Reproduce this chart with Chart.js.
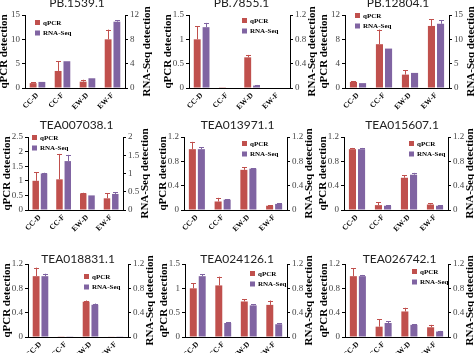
<!DOCTYPE html>
<html>
<head>
<meta charset="utf-8">
<script src="https://cdn.jsdelivr.net/npm/chart.js@4.4.1/dist/chart.umd.min.js"></script>
<style>
html, body { margin: 0; padding: 0; background: #fff; }
body { width: 474px; height: 353px; position: relative; overflow: hidden; }
canvas { position: absolute; }
</style>
</head>
<body>
<script>
// Data
const categories = ['CC-D', 'CC-F', 'EW-D', 'EW-F'];
const geneNames = ['PB.1539.1', 'PB.7855.1', 'PB.12804.1', 'TEA007038.1', 'TEA013971.1',
    'TEA015607.1', 'TEA018831.1', 'TEA024126.1', 'TEA026742.1'];

const qpcrValues = [
    [1.0, 3.5, 1.3, 10.0],
    [1.0, 0.005, 0.63, 0],
    [1.0, 7.2, 2.2, 10.2],
    [1.0, 1.05, 0.57, 0.4],
    [1.0, 0.14, 0.66, 0.07],
    [1.0, 0.08, 0.53, 0.09],
    [1.0, 0.005, 0.58, 0.01],
    [1.0, 1.06, 0.73, 0.66],
    [1.0, 0.17, 0.42, 0.16]
];
const qpcrErrors = [
    [0.15, 2.0, 0.4, 2.0],
    [0.27, 0, 0.05, 0],
    [0.1, 2.4, 0.7, 1.1],
    [0.3, 0.87, 0.02, 0.17],
    [0.12, 0.06, 0.04, 0.01],
    [0.02, 0.05, 0.04, 0.02],
    [0.14, 0, 0.02, 0],
    [0.1, 0.18, 0.05, 0.09],
    [0.13, 0.12, 0.06, 0.04]
];
const rnaValues = [
    [1.0, 4.4, 1.6, 10.9],
    [1.0, 0, 0.04, 0],
    [1.0, 8.1, 3.1, 13.2],
    [1.0, 1.34, 0.4, 0.44],
    [1.0, 0.17, 0.68, 0.1],
    [1.0, 0.07, 0.58, 0.07],
    [1.0, 0.005, 0.53, 0.005],
    [1.0, 0.23, 0.52, 0.21],
    [1.0, 0.23, 0.2, 0.09]
];
const rnaErrors = [
    [0.05, 0.05, 0.05, 0.2],
    [0.07, 0, 0.01, 0],
    [0.05, 0.1, 0.1, 0.7],
    [0.02, 0.17, 0.01, 0.04],
    [0.03, 0.01, 0.01, 0.01],
    [0.02, 0.01, 0.03, 0.01],
    [0.04, 0, 0.02, 0],
    [0.03, 0.01, 0.02, 0.02],
    [0.02, 0.03, 0.01, 0.01]
];

// axis ranges / tick steps
const qpcrMax = [15, 1.5, 12, 2.5, 1.2, 1.2, 1.2, 1.5, 1.2];
const qpcrStep = [5, 0.5, 2, 0.5, 0.2, 0.2, 0.2, 0.5, 0.2];
const rnaMax = [12, 1.2, 15, 2, 1.2, 1.2, 1.2, 1.2, 1.2];
const rnaStep = [2, 0.2, 5, 0.5, 0.2, 0.2, 0.2, 0.2, 0.2];

// Layout: plot box per panel, title and legend offsets
const panelBoxes = [
    { x: 25, y: 15, w: 100, h: 73, tdx: 2, tdy: -12, lx: 10, ly: 5 },
    { x: 189, y: 15, w: 101, h: 73, tdx: 2, tdy: -12, lx: 53, ly: 3 },
    { x: 345, y: 15, w: 104, h: 73, tdx: 1, tdy: -12, lx: 10, ly: -2 },
    { x: 28, y: 137, w: 95, h: 73, tdx: 1, tdy: -12, lx: 4, ly: -2 },
    { x: 184, y: 137, w: 103, h: 73, tdx: 2, tdy: -12, lx: 58, ly: 4 },
    { x: 344, y: 137, w: 104, h: 73, tdx: 6, tdy: -12, lx: 65, ly: 4 },
    { x: 28, y: 264, w: 100, h: 73, tdx: 0, tdy: -5, lx: 56, ly: 10 },
    { x: 185, y: 264, w: 102, h: 73, tdx: 1, tdy: -5, lx: 65, ly: 7 },
    { x: 345, y: 264, w: 103, h: 73, tdx: 3, tdy: -5, lx: 67, ly: 5 }
];

const RED = '#c0504d';
const PURPLE = '#8064a2';
const SERIF = '"Liberation Serif", "DejaVu Serif", serif';
const PAD_LEFT = 30, PAD_RIGHT = 32, PAD_TOP = 22, PAD_BOTTOM = 24;

const tickLabel = v => String(+Number(v).toFixed(2));

// Error bars, titles, axis titles and legend
const decorPlugin = {
    id: 'decor',
    afterDatasetsDraw(chart) {
        const ctx = chart.ctx;
        chart.data.datasets.forEach((ds, di) => {
            const meta = chart.getDatasetMeta(di);
            const scale = chart.scales[ds.yAxisID];
            meta.data.forEach((bar, i) => {
                const yVal = scale.getPixelForValue(ds.data[i]);
                const yTop = scale.getPixelForValue(ds.data[i] + ds.errors[i]);
                if (yVal - yTop < 0.5) return;
                ctx.save();
                ctx.strokeStyle = ds.backgroundColor;
                ctx.lineWidth = 1;
                ctx.beginPath();
                ctx.moveTo(Math.round(bar.x) + 0.5, yVal);
                ctx.lineTo(Math.round(bar.x) + 0.5, yTop);
                ctx.moveTo(Math.round(bar.x) - 2, Math.round(yTop) + 0.5);
                ctx.lineTo(Math.round(bar.x) + 3, Math.round(yTop) + 0.5);
                ctx.stroke();
                ctx.restore();
            });
        });
    },
    afterDraw(chart, args, opts) {
        const ctx = chart.ctx;
        const area = chart.chartArea;
        const box = opts.box;
        const midY = (area.top + area.bottom) / 2;
        ctx.save();

        // panel title
        ctx.fillStyle = '#222';
        ctx.font = '12px Lato, "Open Sans", sans-serif';
        ctx.textAlign = 'center';
        ctx.textBaseline = 'middle';
        ctx.fillText(opts.title, (area.left + area.right) / 2 + box.tdx, area.top + box.tdy);

        // axis titles
        ctx.fillStyle = '#000';
        ctx.font = 'bold 11px ' + SERIF;
        ctx.save();
        ctx.translate(area.left - 21, midY);
        ctx.rotate(-Math.PI / 2);
        ctx.fillText('qPCR detection', 0, 0);
        ctx.restore();
        ctx.save();
        ctx.translate(area.right + 22, midY);
        ctx.rotate(-Math.PI / 2);
        ctx.fillText('RNA-Seq detection', 0, 0);
        ctx.restore();

        // legend
        ctx.font = 'bold 7px ' + SERIF;
        ctx.textAlign = 'left';
        chart.data.datasets.forEach((ds, i) => {
            const lx = area.left + box.lx;
            const ly = area.top + box.ly + i * 10.5;
            ctx.fillStyle = ds.backgroundColor;
            ctx.fillRect(lx, ly, 5, 5);
            ctx.fillStyle = '#000';
            ctx.fillText(ds.label, lx + 8, ly + 2.8);
        });
        ctx.restore();
    }
};

function yAxis(position, max, step, width) {
    return {
        type: 'linear',
        position: position,
        min: 0,
        max: max,
        grid: {
            display: true,
            drawOnChartArea: false,
            drawTicks: true,
            tickLength: 3,
            color: '#000'
        },
        border: { display: true, color: '#000', width: 1 },
        ticks: {
            stepSize: step,
            padding: 2,
            color: '#444',
            font: { family: SERIF, size: 9 },
            callback: tickLabel
        },
        afterFit(scale) { scale.width = width; }
    };
}

function drawPanel(p) {
    const box = panelBoxes[p];
    const canvas = document.createElement('canvas');
    const cw = box.w + PAD_LEFT + PAD_RIGHT;
    const ch = box.h + PAD_TOP + PAD_BOTTOM;
    canvas.width = cw;
    canvas.height = ch;
    canvas.style.left = (box.x - PAD_LEFT) + 'px';
    canvas.style.top = (box.y - PAD_TOP) + 'px';
    canvas.style.width = cw + 'px';
    canvas.style.height = ch + 'px';
    document.body.appendChild(canvas);

    new Chart(canvas.getContext('2d'), {
        type: 'bar',
        data: {
            labels: categories,
            datasets: [
                {
                    label: 'qPCR',
                    data: qpcrValues[p],
                    errors: qpcrErrors[p],
                    backgroundColor: RED,
                    yAxisID: 'y',
                    categoryPercentage: 0.7,
                    barPercentage: 0.78
                },
                {
                    label: 'RNA-Seq',
                    data: rnaValues[p],
                    errors: rnaErrors[p],
                    backgroundColor: PURPLE,
                    yAxisID: 'y1',
                    categoryPercentage: 0.7,
                    barPercentage: 0.78
                }
            ]
        },
        options: {
            responsive: false,
            animation: false,
            devicePixelRatio: 1,
            layout: { padding: { top: PAD_TOP, left: 0, right: 0, bottom: 0 } },
            plugins: {
                legend: { display: false },
                tooltip: { enabled: false },
                decor: { title: geneNames[p], box: box }
            },
            scales: {
                x: {
                    grid: { display: false, drawTicks: false },
                    border: { display: true, color: '#000', width: 1 },
                    ticks: {
                        minRotation: 45,
                        maxRotation: 45,
                        autoSkip: false,
                        padding: 3,
                        color: '#000',
                        font: { family: SERIF, size: 7.5, weight: 'bold' }
                    },
                    afterFit(scale) { scale.height = PAD_BOTTOM; }
                },
                y: yAxis('left', qpcrMax[p], qpcrStep[p], PAD_LEFT),
                y1: yAxis('right', rnaMax[p], rnaStep[p], PAD_RIGHT)
            }
        },
        plugins: [decorPlugin]
    });
}

for (let p = 0; p < geneNames.length; p++) {
    drawPanel(p);
}
</script>
</body>
</html>
